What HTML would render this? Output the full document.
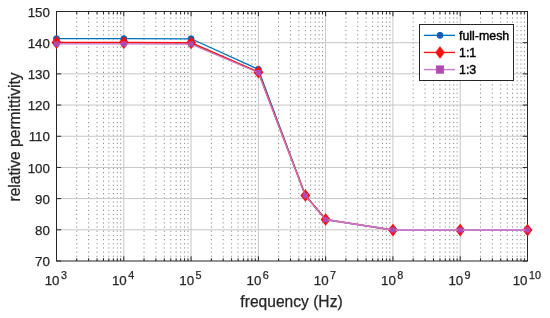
<!DOCTYPE html>
<html><head><meta charset="utf-8"><style>html,body{margin:0;padding:0;background:#fff;overflow:hidden}svg{display:block}</style></head>
<body>
<svg width="550" height="318" viewBox="0 0 550 318">
<rect width="550" height="318" fill="#fff"/>
<path d="M76.76 261.0V11.5M88.60 261.0V11.5M97.01 261.0V11.5M103.53 261.0V11.5M108.86 261.0V11.5M113.36 261.0V11.5M117.27 261.0V11.5M120.71 261.0V11.5M144.04 261.0V11.5M155.89 261.0V11.5M164.30 261.0V11.5M170.82 261.0V11.5M176.14 261.0V11.5M180.65 261.0V11.5M184.55 261.0V11.5M187.99 261.0V11.5M211.33 261.0V11.5M223.17 261.0V11.5M231.58 261.0V11.5M238.10 261.0V11.5M243.43 261.0V11.5M247.93 261.0V11.5M251.84 261.0V11.5M255.28 261.0V11.5M278.61 261.0V11.5M290.46 261.0V11.5M298.87 261.0V11.5M305.39 261.0V11.5M310.72 261.0V11.5M315.22 261.0V11.5M319.12 261.0V11.5M322.56 261.0V11.5M345.90 261.0V11.5M357.75 261.0V11.5M366.15 261.0V11.5M372.67 261.0V11.5M378.00 261.0V11.5M382.51 261.0V11.5M386.41 261.0V11.5M389.85 261.0V11.5M413.18 261.0V11.5M425.03 261.0V11.5M433.44 261.0V11.5M439.96 261.0V11.5M445.29 261.0V11.5M449.79 261.0V11.5M453.69 261.0V11.5M457.14 261.0V11.5M480.47 261.0V11.5M492.32 261.0V11.5M500.72 261.0V11.5M507.24 261.0V11.5M512.57 261.0V11.5M517.08 261.0V11.5M520.98 261.0V11.5M524.42 261.0V11.5" stroke="#8c8c8c" stroke-width="1" stroke-dasharray="1.2 2.98" stroke-dashoffset="0.1" fill="none"/>
<path d="M123.79 11.5V261.0M191.07 11.5V261.0M258.36 11.5V261.0M325.64 11.5V261.0M392.93 11.5V261.0M460.21 11.5V261.0M56.5 229.81H527.5M56.5 198.62H527.5M56.5 167.44H527.5M56.5 136.25H527.5M56.5 105.06H527.5M56.5 73.88H527.5M56.5 42.69H527.5" stroke="#c6c6c6" stroke-width="1" fill="none"/>
<path d="M56.50 261.0v-4.7M56.50 11.5v4.7M123.79 261.0v-4.7M123.79 11.5v4.7M191.07 261.0v-4.7M191.07 11.5v4.7M258.36 261.0v-4.7M258.36 11.5v4.7M325.64 261.0v-4.7M325.64 11.5v4.7M392.93 261.0v-4.7M392.93 11.5v4.7M460.21 261.0v-4.7M460.21 11.5v4.7M527.50 261.0v-4.7M527.50 11.5v4.7M76.76 261.0v-2.8M76.76 11.5v2.8M88.60 261.0v-2.8M88.60 11.5v2.8M97.01 261.0v-2.8M97.01 11.5v2.8M103.53 261.0v-2.8M103.53 11.5v2.8M108.86 261.0v-2.8M108.86 11.5v2.8M113.36 261.0v-2.8M113.36 11.5v2.8M117.27 261.0v-2.8M117.27 11.5v2.8M120.71 261.0v-2.8M120.71 11.5v2.8M144.04 261.0v-2.8M144.04 11.5v2.8M155.89 261.0v-2.8M155.89 11.5v2.8M164.30 261.0v-2.8M164.30 11.5v2.8M170.82 261.0v-2.8M170.82 11.5v2.8M176.14 261.0v-2.8M176.14 11.5v2.8M180.65 261.0v-2.8M180.65 11.5v2.8M184.55 261.0v-2.8M184.55 11.5v2.8M187.99 261.0v-2.8M187.99 11.5v2.8M211.33 261.0v-2.8M211.33 11.5v2.8M223.17 261.0v-2.8M223.17 11.5v2.8M231.58 261.0v-2.8M231.58 11.5v2.8M238.10 261.0v-2.8M238.10 11.5v2.8M243.43 261.0v-2.8M243.43 11.5v2.8M247.93 261.0v-2.8M247.93 11.5v2.8M251.84 261.0v-2.8M251.84 11.5v2.8M255.28 261.0v-2.8M255.28 11.5v2.8M278.61 261.0v-2.8M278.61 11.5v2.8M290.46 261.0v-2.8M290.46 11.5v2.8M298.87 261.0v-2.8M298.87 11.5v2.8M305.39 261.0v-2.8M305.39 11.5v2.8M310.72 261.0v-2.8M310.72 11.5v2.8M315.22 261.0v-2.8M315.22 11.5v2.8M319.12 261.0v-2.8M319.12 11.5v2.8M322.56 261.0v-2.8M322.56 11.5v2.8M345.90 261.0v-2.8M345.90 11.5v2.8M357.75 261.0v-2.8M357.75 11.5v2.8M366.15 261.0v-2.8M366.15 11.5v2.8M372.67 261.0v-2.8M372.67 11.5v2.8M378.00 261.0v-2.8M378.00 11.5v2.8M382.51 261.0v-2.8M382.51 11.5v2.8M386.41 261.0v-2.8M386.41 11.5v2.8M389.85 261.0v-2.8M389.85 11.5v2.8M413.18 261.0v-2.8M413.18 11.5v2.8M425.03 261.0v-2.8M425.03 11.5v2.8M433.44 261.0v-2.8M433.44 11.5v2.8M439.96 261.0v-2.8M439.96 11.5v2.8M445.29 261.0v-2.8M445.29 11.5v2.8M449.79 261.0v-2.8M449.79 11.5v2.8M453.69 261.0v-2.8M453.69 11.5v2.8M457.14 261.0v-2.8M457.14 11.5v2.8M480.47 261.0v-2.8M480.47 11.5v2.8M492.32 261.0v-2.8M492.32 11.5v2.8M500.72 261.0v-2.8M500.72 11.5v2.8M507.24 261.0v-2.8M507.24 11.5v2.8M512.57 261.0v-2.8M512.57 11.5v2.8M517.08 261.0v-2.8M517.08 11.5v2.8M520.98 261.0v-2.8M520.98 11.5v2.8M524.42 261.0v-2.8M524.42 11.5v2.8M56.5 261.00h4.7M527.5 261.00h-4.7M56.5 229.81h4.7M527.5 229.81h-4.7M56.5 198.62h4.7M527.5 198.62h-4.7M56.5 167.44h4.7M527.5 167.44h-4.7M56.5 136.25h4.7M527.5 136.25h-4.7M56.5 105.06h4.7M527.5 105.06h-4.7M56.5 73.88h4.7M527.5 73.88h-4.7M56.5 42.69h4.7M527.5 42.69h-4.7M56.5 11.50h4.7M527.5 11.50h-4.7" stroke="#262626" stroke-width="1" fill="none"/>
<rect x="56.5" y="11.5" width="471.0" height="249.5" stroke="#262626" stroke-width="1" fill="none"/>
<polyline points="56.50,38.63 123.79,38.63 191.07,38.79 258.36,69.35 305.39,195.35 325.64,219.52 392.93,230.03" stroke="#0072bd" stroke-width="1.25" fill="none" stroke-linejoin="round"/>
<circle cx="56.50" cy="38.63" r="3" fill="#2155b0" stroke="#0072bd" stroke-width="1"/>
<circle cx="123.79" cy="38.63" r="3" fill="#2155b0" stroke="#0072bd" stroke-width="1"/>
<circle cx="191.07" cy="38.79" r="3" fill="#2155b0" stroke="#0072bd" stroke-width="1"/>
<circle cx="258.36" cy="69.35" r="3" fill="#2155b0" stroke="#0072bd" stroke-width="1"/>
<circle cx="305.39" cy="195.35" r="3" fill="#2155b0" stroke="#0072bd" stroke-width="1"/>
<circle cx="325.64" cy="219.52" r="3" fill="#2155b0" stroke="#0072bd" stroke-width="1"/>
<circle cx="392.93" cy="230.03" r="3" fill="#2155b0" stroke="#0072bd" stroke-width="1"/>
<circle cx="460.21" cy="230.03" r="3" fill="#2155b0" stroke="#0072bd" stroke-width="1"/>
<circle cx="527.50" cy="230.03" r="3" fill="#2155b0" stroke="#0072bd" stroke-width="1"/>
<polyline points="56.50,42.56 123.79,42.56 191.07,42.84 258.36,72.16 305.39,195.51 325.64,219.52 392.93,230.03" stroke="#f81010" stroke-width="1.6" fill="none" stroke-linejoin="round"/>
<path d="M56.50 36.21L61.50 42.56L56.50 48.91L51.50 42.56Z" fill="#f81010"/>
<path d="M123.79 36.21L128.79 42.56L123.79 48.91L118.79 42.56Z" fill="#f81010"/>
<path d="M191.07 36.49L196.07 42.84L191.07 49.19L186.07 42.84Z" fill="#f81010"/>
<path d="M258.36 65.81L263.36 72.16L258.36 78.51L253.36 72.16Z" fill="#f81010"/>
<path d="M305.39 189.16L310.39 195.51L305.39 201.86L300.39 195.51Z" fill="#f81010"/>
<path d="M325.64 213.17L330.64 219.52L325.64 225.87L320.64 219.52Z" fill="#f81010"/>
<path d="M392.93 223.68L397.93 230.03L392.93 236.38L387.93 230.03Z" fill="#f81010"/>
<path d="M460.21 223.68L465.21 230.03L460.21 236.38L455.21 230.03Z" fill="#f81010"/>
<path d="M527.50 223.68L532.50 230.03L527.50 236.38L522.50 230.03Z" fill="#f81010"/>
<polyline points="56.50,43.94 123.79,43.94 191.07,44.09 258.36,72.63 305.39,195.82 325.64,219.68 392.93,230.03 460.21,230.03 527.50,230.03" stroke="#c878c8" stroke-width="1.2" fill="none" stroke-linejoin="round"/>
<path d="M325.64 219.68L392.93 230.03H527.50" stroke="#c878c8" stroke-width="1.7" fill="none" stroke-linejoin="round"/>
<rect x="53.80" y="41.34" width="5.4" height="5.2" fill="#b04ab0"/>
<rect x="121.09" y="41.34" width="5.4" height="5.2" fill="#b04ab0"/>
<rect x="188.37" y="41.49" width="5.4" height="5.2" fill="#b04ab0"/>
<rect x="255.66" y="70.03" width="5.4" height="5.2" fill="#b04ab0"/>
<rect x="302.69" y="193.22" width="5.4" height="5.2" fill="#b04ab0"/>
<rect x="322.94" y="217.08" width="5.4" height="5.2" fill="#b04ab0"/>
<rect x="390.23" y="227.43" width="5.4" height="5.2" fill="#b04ab0"/>
<rect x="457.51" y="227.43" width="5.4" height="5.2" fill="#b04ab0"/>
<rect x="524.80" y="227.43" width="5.4" height="5.2" fill="#b04ab0"/>
<text x="49.9" y="266.20" text-anchor="end" font-size="13.33" fill="#262626" stroke="#262626" style="font-family:'Liberation Sans',Arial,sans-serif;stroke-width:0.25px">70</text>
<text x="49.9" y="235.01" text-anchor="end" font-size="13.33" fill="#262626" stroke="#262626" style="font-family:'Liberation Sans',Arial,sans-serif;stroke-width:0.25px">80</text>
<text x="49.9" y="203.82" text-anchor="end" font-size="13.33" fill="#262626" stroke="#262626" style="font-family:'Liberation Sans',Arial,sans-serif;stroke-width:0.25px">90</text>
<text x="49.9" y="172.64" text-anchor="end" font-size="13.33" fill="#262626" stroke="#262626" style="font-family:'Liberation Sans',Arial,sans-serif;stroke-width:0.25px">100</text>
<text x="49.9" y="141.45" text-anchor="end" font-size="13.33" fill="#262626" stroke="#262626" style="font-family:'Liberation Sans',Arial,sans-serif;stroke-width:0.25px">110</text>
<text x="49.9" y="110.26" text-anchor="end" font-size="13.33" fill="#262626" stroke="#262626" style="font-family:'Liberation Sans',Arial,sans-serif;stroke-width:0.25px">120</text>
<text x="49.9" y="79.08" text-anchor="end" font-size="13.33" fill="#262626" stroke="#262626" style="font-family:'Liberation Sans',Arial,sans-serif;stroke-width:0.25px">130</text>
<text x="49.9" y="47.89" text-anchor="end" font-size="13.33" fill="#262626" stroke="#262626" style="font-family:'Liberation Sans',Arial,sans-serif;stroke-width:0.25px">140</text>
<text x="49.9" y="16.70" text-anchor="end" font-size="13.33" fill="#262626" stroke="#262626" style="font-family:'Liberation Sans',Arial,sans-serif;stroke-width:0.25px">150</text>
<text x="55.80" y="284.8" text-anchor="middle" font-size="13.33" fill="#262626" stroke="#262626" style="font-family:'Liberation Sans',Arial,sans-serif;stroke-width:0.25px">10<tspan font-size="10.8" dx="1.4" dy="-6.2">3</tspan></text>
<text x="123.09" y="284.8" text-anchor="middle" font-size="13.33" fill="#262626" stroke="#262626" style="font-family:'Liberation Sans',Arial,sans-serif;stroke-width:0.25px">10<tspan font-size="10.8" dx="1.4" dy="-6.2">4</tspan></text>
<text x="190.37" y="284.8" text-anchor="middle" font-size="13.33" fill="#262626" stroke="#262626" style="font-family:'Liberation Sans',Arial,sans-serif;stroke-width:0.25px">10<tspan font-size="10.8" dx="1.4" dy="-6.2">5</tspan></text>
<text x="257.66" y="284.8" text-anchor="middle" font-size="13.33" fill="#262626" stroke="#262626" style="font-family:'Liberation Sans',Arial,sans-serif;stroke-width:0.25px">10<tspan font-size="10.8" dx="1.4" dy="-6.2">6</tspan></text>
<text x="324.94" y="284.8" text-anchor="middle" font-size="13.33" fill="#262626" stroke="#262626" style="font-family:'Liberation Sans',Arial,sans-serif;stroke-width:0.25px">10<tspan font-size="10.8" dx="1.4" dy="-6.2">7</tspan></text>
<text x="392.23" y="284.8" text-anchor="middle" font-size="13.33" fill="#262626" stroke="#262626" style="font-family:'Liberation Sans',Arial,sans-serif;stroke-width:0.25px">10<tspan font-size="10.8" dx="1.4" dy="-6.2">8</tspan></text>
<text x="459.51" y="284.8" text-anchor="middle" font-size="13.33" fill="#262626" stroke="#262626" style="font-family:'Liberation Sans',Arial,sans-serif;stroke-width:0.25px">10<tspan font-size="10.8" dx="1.4" dy="-6.2">9</tspan></text>
<text x="526.80" y="284.8" text-anchor="middle" font-size="13.33" fill="#262626" stroke="#262626" style="font-family:'Liberation Sans',Arial,sans-serif;stroke-width:0.25px">10<tspan font-size="10.8" dx="1.4" dy="-6.2">10</tspan></text>
<text x="291.5" y="306.9" text-anchor="middle" font-size="15.6" fill="#262626" stroke="#262626" style="font-family:'Liberation Sans',Arial,sans-serif;stroke-width:0.25px">frequency (Hz)</text>
<text transform="translate(19.6 137) rotate(-90)" text-anchor="middle" font-size="15.6" fill="#262626" stroke="#262626" style="font-family:'Liberation Sans',Arial,sans-serif;stroke-width:0.25px">relative permittivity</text>
<rect x="419.5" y="24.5" width="94.0" height="56.0" fill="#fff" stroke="#262626" stroke-width="1"/>
<path d="M424 35.35H455" stroke="#0072bd" stroke-width="1.35"/>
<circle cx="440" cy="35.35" r="3" fill="#2155b0" stroke="#0072bd" stroke-width="1"/>
<path d="M424 52.45H455" stroke="#f81010" stroke-width="1.35"/>
<path d="M440 46.45L444.5 52.45L440 58.45L435.5 52.45Z" fill="#f81010" stroke="#f81010" stroke-width="0.5"/>
<path d="M424 69.6H455" stroke="#c878c8" stroke-width="1.35"/>
<rect x="436.2" y="65.8" width="7.6" height="7.6" fill="#b04ab0" stroke="#b04ab0" stroke-width="0.5"/>
<text x="459" y="40.15" font-size="12.4" fill="#000" stroke="#000" style="font-family:'Liberation Sans',Arial,sans-serif;stroke-width:0.25px;stroke-width:0.4px">full-mesh</text>
<text x="459" y="57.25" font-size="12.4" fill="#000" stroke="#000" style="font-family:'Liberation Sans',Arial,sans-serif;stroke-width:0.25px;stroke-width:0.4px">1:1</text>
<text x="459" y="74.40" font-size="12.4" fill="#000" stroke="#000" style="font-family:'Liberation Sans',Arial,sans-serif;stroke-width:0.25px;stroke-width:0.4px">1:3</text>
</svg>
</body></html>
